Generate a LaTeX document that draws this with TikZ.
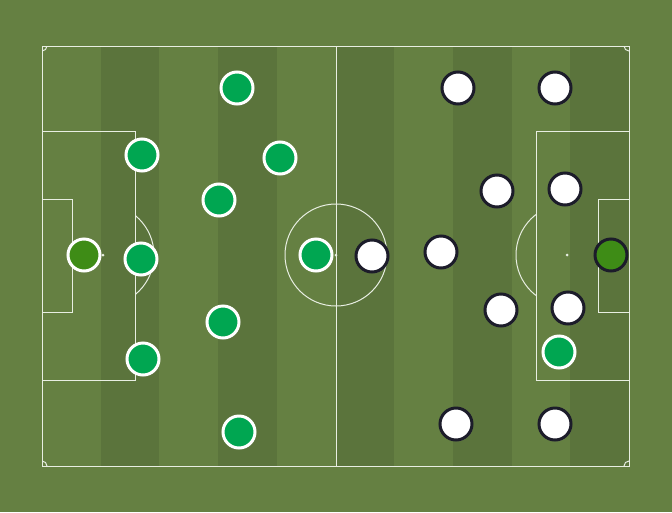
\documentclass[tikz,border=0pt]{standalone}
\usetikzlibrary{shadows}
\definecolor{grass}{RGB}{101,128,66}
\definecolor{grassdark}{RGB}{91,116,60}
\definecolor{homegreen}{RGB}{0,166,81}
\definecolor{keepergreen}{RGB}{62,140,22}
\definecolor{awayrim}{RGB}{28,28,42}
\definecolor{chalk}{RGB}{232,238,226}

\begin{document}
\begin{tikzpicture}[
  x=1pt, y=-1pt,
  line/.style={draw=chalk, line width=1pt},
  home/.style={circle, draw=white, line width=3pt, fill=homegreen, minimum size=32pt, inner sep=0pt,
    drop shadow={shadow xshift=1pt, shadow yshift=-1.5pt, opacity=0.3}},
  homekeeper/.style={home, fill=keepergreen},
  away/.style={home, draw=awayrim, fill=white},
  awaykeeper/.style={away, fill=keepergreen}
]

% Grass and stripes
\fill[grass] (0,0) rectangle (672,512);
\useasboundingbox (0,0) rectangle (672,512);
\foreach \i in {1,3,5,7,9}
  \fill[grassdark] (42+\i*58.7,46) rectangle ++(58.7,420);

% Pitch markings
\draw[line] (42,46) rectangle (629,466);
\draw[line] (336,46) -- (336,466);
\draw[line] (336,255) circle[radius=51];
\fill[chalk] (336,255) circle[radius=1.5];

\draw[line] (42,131) rectangle (135,380);
\draw[line] (42,199) rectangle (72,312);
\fill[chalk] (103,255) circle[radius=1.5];
\draw[line] (536,131) rectangle (629,380);
\draw[line] (598,199) rectangle (629,312);
\fill[chalk] (567,255) circle[radius=1.5];

% Penalty arcs
\begin{scope}
  \clip (135,0) rectangle (336,512);
  \draw[line] (103,255) circle[radius=51];
\end{scope}
\begin{scope}
  \clip (336,0) rectangle (536,512);
  \draw[line] (567,255) circle[radius=51];
\end{scope}

% Corner arcs
\begin{scope}
  \clip (42,46) rectangle (629,466);
  \foreach \cx/\cy in {42/46, 629/46, 42/466, 629/466}
    \draw[line] (\cx,\cy) circle[radius=5];
\end{scope}

% Home team
\node[homekeeper] (hgk) at (84,255) {};
\node[home] (hd1) at (142,155) {};
\node[home] (hd2) at (141,259) {};
\node[home] (hd3) at (143,359) {};
\node[home] (hm1) at (237,88) {};
\node[home] (hm2) at (219,200) {};
\node[home] (hm3) at (223,322) {};
\node[home] (hm4) at (239,432) {};
\node[home] (hf1) at (280,158) {};
\node[home] (hf2) at (316,255) {};
\node[home] (hf3) at (559,352) {};

% Away team
\node[awaykeeper] (agk) at (611,255) {};
\node[away] (ad1) at (555,88) {};
\node[away] (ad2) at (565,189) {};
\node[away] (ad3) at (568,308) {};
\node[away] (ad4) at (555,424) {};
\node[away] (am1) at (458,88) {};
\node[away] (am2) at (497,191) {};
\node[away] (am3) at (501,310) {};
\node[away] (am4) at (456,424) {};
\node[away] (af1) at (441,252) {};
\node[away] (af2) at (372,256) {};

\end{tikzpicture}
\end{document}
